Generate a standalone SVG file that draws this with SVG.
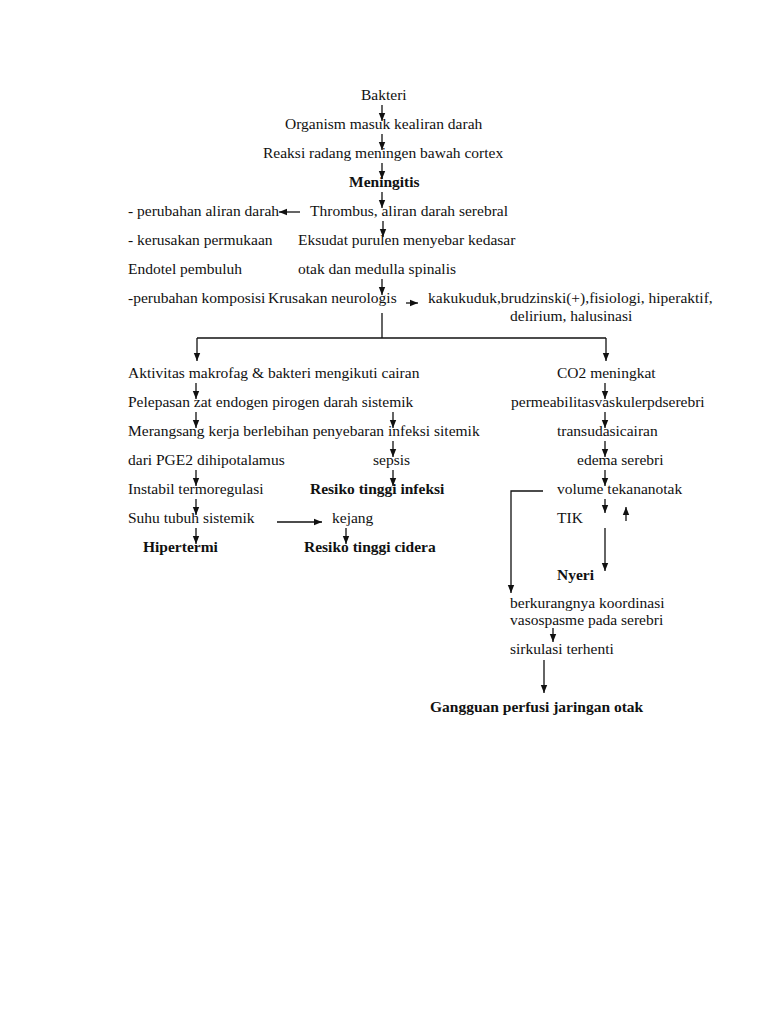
<svg xmlns="http://www.w3.org/2000/svg" width="768" height="1024" viewBox="0 0 768 1024">
<defs>
<style>
text{font-family:"Liberation Serif","Times New Roman",serif;font-size:15.5px;fill:#111;}
.b{font-weight:bold;}
.c line,.c polyline{stroke:#111;stroke-width:1.3;fill:none;}
</style>
<marker id="ah" markerUnits="userSpaceOnUse" markerWidth="8" markerHeight="8" viewBox="0 0 8 8" refX="8" refY="4" orient="auto">
<path d="M0,0.8 L8,4 L0,7.2 Z" fill="#111"/>
</marker>
</defs>
<rect width="768" height="1024" fill="#fff"/>
<g id="n-bakteri"><text x="361" y="100">Bakteri</text></g>
<g id="n-organism"><text x="285" y="129">Organism masuk kealiran darah</text></g>
<g id="n-reaksi"><text x="263" y="158">Reaksi radang meningen bawah cortex</text></g>
<g id="n-meningitis"><text class="b" x="349" y="187">Meningitis</text></g>
<g id="n-perubahan"><text x="128" y="216">- perubahan aliran darah</text></g>
<g id="n-thrombus"><text x="310" y="216">Thrombus, aliran darah serebral</text></g>
<g id="n-kerusakan"><text x="128" y="245">- kerusakan permukaan</text><text x="128" y="274">Endotel pembuluh</text><text x="128" y="303">-perubahan komposisi</text></g>
<g id="n-eksudat"><text x="298" y="245">Eksudat purulen menyebar kedasar</text><text x="298" y="274">otak dan medulla spinalis</text></g>
<g id="n-krusakan"><text x="268" y="303">Krusakan neurologis</text></g>
<g id="n-kaku"><text x="428" y="303">kakukuduk,brudzinski(+),fisiologi, hiperaktif,</text><text x="510" y="321">delirium, halusinasi</text></g>
<g id="n-aktivitas"><text x="128" y="378">Aktivitas makrofag &amp; bakteri mengikuti cairan</text></g>
<g id="n-pelepasan"><text x="128" y="407">Pelepasan zat endogen pirogen darah sistemik</text></g>
<g id="n-merangsang"><text x="128" y="436">Merangsang kerja berlebihan penyebaran infeksi sitemik</text></g>
<g id="n-pge2"><text x="128" y="465">dari PGE2 dihipotalamus</text></g>
<g id="n-sepsis"><text x="373" y="465">sepsis</text></g>
<g id="n-instabil"><text x="128" y="494">Instabil termoregulasi</text></g>
<g id="n-infeksi"><text class="b" x="310" y="494">Resiko tinggi infeksi</text></g>
<g id="n-suhu"><text x="128" y="523">Suhu tubuh sistemik</text></g>
<g id="n-kejang"><text x="332" y="523">kejang</text></g>
<g id="n-hipertermi"><text class="b" x="143" y="552">Hipertermi</text></g>
<g id="n-cidera"><text class="b" x="304" y="552">Resiko tinggi cidera</text></g>
<g id="n-co2"><text x="557" y="378">CO2 meningkat</text></g>
<g id="n-perm"><text x="511" y="407">permeabilitasvaskulerpdserebri</text></g>
<g id="n-trans"><text x="557" y="436">transudasicairan</text></g>
<g id="n-edema"><text x="577" y="465">edema serebri</text></g>
<g id="n-volume"><text x="557" y="494">volume tekananotak</text></g>
<g id="n-tik"><text x="557" y="523">TIK</text></g>
<g id="n-nyeri"><text class="b" x="557" y="580">Nyeri</text></g>
<g id="n-berkurang"><text x="510" y="608">berkurangnya koordinasi</text><text x="510" y="625">vasospasme pada serebri</text></g>
<g id="n-sirkulasi"><text x="510" y="654">sirkulasi terhenti</text></g>
<g id="n-gangguan"><text class="b" x="430" y="712">Gangguan perfusi jaringan otak</text></g>
<g id="connectors" class="c">
<line x1="382" y1="105" x2="382" y2="121" marker-end="url(#ah)"/>
<line x1="382" y1="134" x2="382" y2="150" marker-end="url(#ah)"/>
<line x1="382" y1="163" x2="382" y2="179" marker-end="url(#ah)"/>
<line x1="382" y1="192" x2="382" y2="208" marker-end="url(#ah)"/>
<line x1="300" y1="212" x2="279" y2="212" marker-end="url(#ah)"/>
<line x1="383" y1="221" x2="383" y2="237" marker-end="url(#ah)"/>
<line x1="382" y1="279" x2="382" y2="295" marker-end="url(#ah)"/>
<line x1="406" y1="303" x2="418" y2="303" marker-end="url(#ah)"/>
<polyline points="382,313 382,338"/>
<polyline points="197,338 606,338"/>
<line x1="197" y1="338" x2="197" y2="361" marker-end="url(#ah)"/>
<line x1="606" y1="338" x2="606" y2="361" marker-end="url(#ah)"/>
<line x1="196" y1="383" x2="196" y2="399" marker-end="url(#ah)"/>
<line x1="196" y1="412" x2="196" y2="428" marker-end="url(#ah)"/>
<line x1="393" y1="412" x2="393" y2="428" marker-end="url(#ah)"/>
<line x1="393" y1="441" x2="393" y2="457" marker-end="url(#ah)"/>
<line x1="393" y1="470" x2="393" y2="486" marker-end="url(#ah)"/>
<line x1="196" y1="470" x2="196" y2="486" marker-end="url(#ah)"/>
<line x1="196" y1="499" x2="196" y2="515" marker-end="url(#ah)"/>
<line x1="196" y1="528" x2="196" y2="544" marker-end="url(#ah)"/>
<line x1="277" y1="522" x2="322" y2="522" marker-end="url(#ah)"/>
<line x1="346" y1="528" x2="346" y2="544" marker-end="url(#ah)"/>
<line x1="605" y1="383" x2="605" y2="399" marker-end="url(#ah)"/>
<line x1="605" y1="412" x2="605" y2="428" marker-end="url(#ah)"/>
<line x1="605" y1="441" x2="605" y2="457" marker-end="url(#ah)"/>
<line x1="605" y1="470" x2="605" y2="486" marker-end="url(#ah)"/>
<line x1="605" y1="499" x2="605" y2="513" marker-end="url(#ah)"/>
<line x1="626" y1="521" x2="626" y2="507" marker-end="url(#ah)"/>
<line x1="605" y1="528" x2="605" y2="571" marker-end="url(#ah)"/>
<polyline points="543,491 511,491 511,593" marker-end="url(#ah)"/>
<line x1="553" y1="628" x2="553" y2="642" marker-end="url(#ah)"/>
<line x1="544" y1="660" x2="544" y2="693" marker-end="url(#ah)"/>
</g>
</svg>
